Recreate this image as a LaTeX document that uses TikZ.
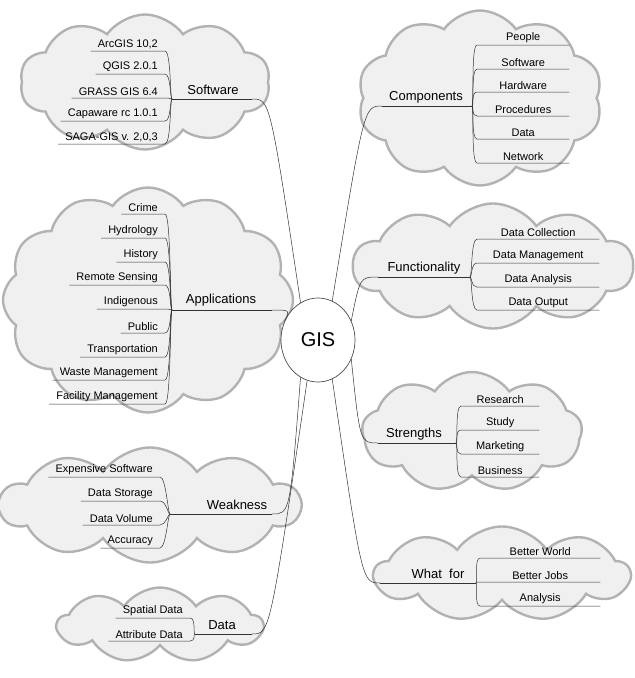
\documentclass[tikz,border=0pt]{standalone}
\usepackage{fontspec}
\setmainfont{Liberation Sans}
\usetikzlibrary{shapes.symbols,shapes.geometric}
\begin{document}
\begin{tikzpicture}[x=1pt,y=-1pt,
  cl/.style={cloud, cloud puffs=#1, cloud puff arc=110, draw=gray!60, line width=2.4pt, fill=gray!12, inner sep=0pt},
  lbl/.style={font=\fontsize{13}{14}\selectfont, inner sep=1.5pt},
  itl/.style={font=\fontsize{11}{12}\selectfont, inner xsep=7pt, inner ysep=2pt, anchor=south east},
  itr/.style={font=\fontsize{11}{12}\selectfont, inner xsep=5pt, inner ysep=2pt, anchor=south west},
  ln/.style={draw=gray!40!black, line width=0.5pt}]
\useasboundingbox (0,0) rectangle (635,678);
% clouds
\node[cl=10, minimum width=250, minimum height=135, aspect=1.85] (c1) at (145,82) {};
\node[cl=12, minimum width=290, minimum height=225, aspect=1.3] (c2) at (148,300) {};
\node[cl=10, minimum width=300, minimum height=115, aspect=2.6] (c3) at (150,505) {};
\node[cl=9, minimum width=205, minimum height=75, aspect=2.7] (c4) at (160,625) {};
\node[cl=10, minimum width=245, minimum height=175, aspect=1.4] (c5) at (480,98) {};
\node[cl=10, minimum width=280, minimum height=125, aspect=2.2] (c6) at (493,266) {};
\node[cl=9, minimum width=220, minimum height=120, aspect=1.8] (c7) at (472,432) {};
\node[cl=9, minimum width=255, minimum height=95, aspect=2.7] (c8) at (502,574) {};
% center
\node[draw=gray!60!black, line width=0.7pt, fill=white, ellipse, minimum width=74, minimum height=84, font=\fontsize{20}{22}\selectfont] (gis) at (318,340) {GIS};
% left branches
\foreach \name/\txt/\x/\ya/\yb/\xa/\xb/\ex/\ang/\its in {
  sw/Software/213/90/99/172/252/165/115/{{ArcGIS 10,2}/51,{QGIS 2.0.1}/74,{GRASS GIS 6.4}/98,{Capaware rc 1.0.1}/121,{SAGA-GIS v. 2,0,3}/144},
  ap/Applications/221/300/310/172/272/165/150/{Crime/214,Hydrology/238,History/262,{Remote Sensing}/285,Indigenous/309,Public/333,Transportation/357,{Waste Management}/380,{Facility Management}/404},
  wk/Weakness/237/505/514/170/272/160/245/{{Expensive Software}/477,{Data Storage}/501,{Data Volume}/525,Accuracy/548},
  dt/Data/222/625/634/195/252/190/255/{{Spatial Data}/618,{Attribute Data}/641}}{
  \node[lbl] (\name) at (\x,\ya) {\txt};
  \coordinate (\name J) at (\xa,\yb);
  \coordinate (\name E) at (\xb,\yb);
  \draw[ln] (\name J) -- (\name E);
  \draw[ln] (\name E) .. controls +(18,0) .. (gis.\ang);
  \foreach \t/\yy [count=\i] in \its {
    \node[itl] (\name\i) at (\ex,\yy) {\t};
    \draw[ln] (\name\i.south west) -- (\name\i.south east) .. controls +(6,0) and +(-2,0) .. (\name J);
  }
}
% right branches
\foreach \name/\txt/\x/\ya/\yb/\xa/\xb/\ex/\w/\ang/\its in {
  co/Components/426/97/106/472/382/477/92/70/{People/45,Software/69,Hardware/92,Procedures/116,Data/139,Network/163},
  fu/Functionality/424/268/277/470/378/477/122/30/{{Data Collection}/239,{Data Management}/263,{Data Analysis}/287,{Data Output}/310},
  st/Strengths/414/434/443/456/378/461/78/-30/{Research/406,Study/430,Marketing/454,Business/477},
  wf/{What\ \ for}/438/574/583/476/380/480/120/-70/{{Better World}/558,{Better Jobs}/582,Analysis/606}}{
  \node[lbl] (\name) at (\x,\ya) {\txt};
  \coordinate (\name J) at (\xa,\yb);
  \coordinate (\name E) at (\xb,\yb);
  \draw[ln] (\name J) -- (\name E);
  \draw[ln] (\name E) .. controls +(-18,0) .. (gis.\ang);
  \foreach \t/\yy [count=\i] in \its {
    \node[itr, minimum width=\w] (\name\i) at (\ex,\yy) {\t};
    \draw[ln] (\name\i.south east) -- (\name\i.south west) .. controls +(-6,0) and +(2,0) .. (\name J);
  }
}
\end{tikzpicture}
\end{document}
